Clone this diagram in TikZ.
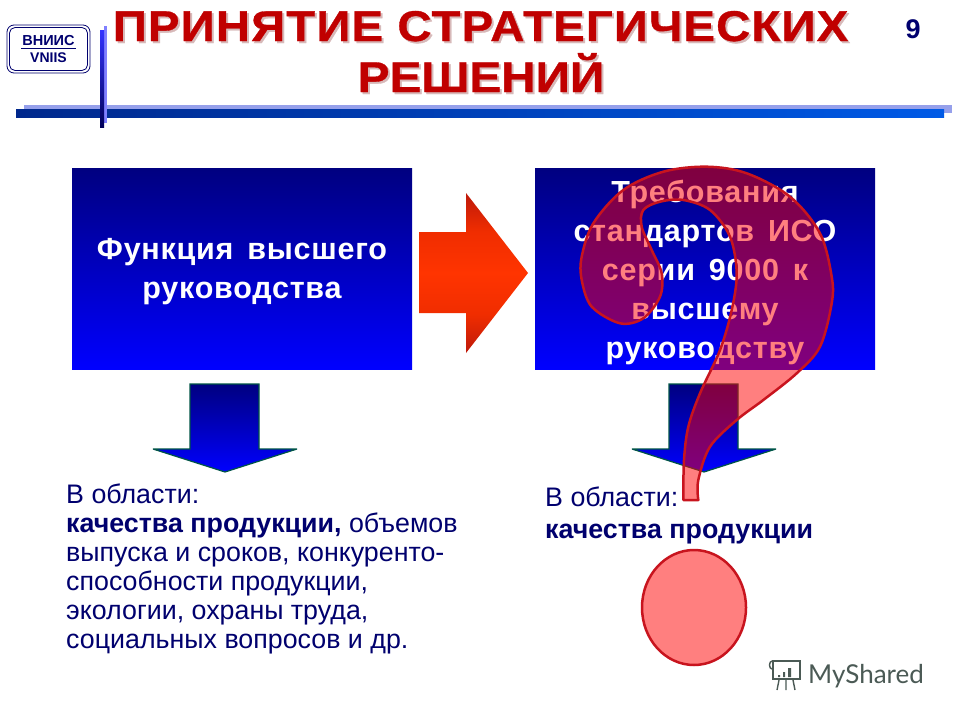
\documentclass[tikz,border=0pt]{standalone}
\usepackage{fontspec}
\setmainfont{Liberation Sans}
\newfontfamily\wmfont{Lato}
\newfontfamily\titlefonta[FakeStretch=1.1,FakeBold=.8,LetterSpace=2.7]{Liberation Sans Bold}
\newfontfamily\titlefontb[FakeStretch=1.11,FakeBold=.8]{Liberation Sans Bold}
\newfontfamily\boxfont[LetterSpace=2.5,WordSpace=1.5]{Liberation Sans Bold}
\definecolor{navytxt}{RGB}{0,0,110}
\definecolor{boxtop}{RGB}{0,0,128}
\definecolor{boxbot}{RGB}{0,0,255}
\definecolor{titlered}{RGB}{192,0,0}
\definecolor{titleshadow}{RGB}{215,185,185}
\definecolor{qline}{RGB}{200,20,30}
\definecolor{arrowline}{RGB}{0,85,70}
\definecolor{wm}{RGB}{75,90,85}
\definecolor{bardarkl}{RGB}{0,40,140}
\definecolor{bardarkr}{RGB}{0,90,230}
\definecolor{barlight}{RGB}{150,160,235}
\definecolor{arrowdark}{RGB}{190,25,10}
\definecolor{arrowmid}{RGB}{240,45,0}
\definecolor{arrowbright}{RGB}{255,52,0}
\pgfdeclareverticalshading{redarrowshade}{100bp}{
  color(0bp)=(arrowdark); color(25bp)=(arrowdark); color(37bp)=(arrowmid);
  color(50bp)=(arrowbright); color(63bp)=(arrowmid); color(75bp)=(arrowdark); color(100bp)=(arrowdark)}
\tikzset{
  x=1pt,y=-1pt,
  gradbox/.style={top color=boxtop,bottom color=boxbot,shading angle=0},
  boxtext/.style={text=white,font=\fontsize{30.5}{39}\boxfont,align=center,inner sep=0pt},
  titlea/.style={font=\fontsize{43}{50}\titlefonta,inner sep=0pt,anchor=base},
  titleb/.style={font=\fontsize{43}{50}\titlefontb,inner sep=0pt,anchor=base},
  bodytext/.style={text=navytxt,font=\fontsize{26.8}{29}\selectfont,align=left,inner sep=0pt,anchor=north west},
  bodytextb/.style={bodytext,font=\fontsize{26.8}{32}\selectfont},
  downarrow/.style={draw=arrowline,line width=1.2pt,miter limit=2,top color=boxtop,bottom color=boxbot},
  questionmark/.style={draw=qline,line width=2.5pt,fill=red,fill opacity=.5,line join=round},
}
\begin{document}
\begin{tikzpicture}
\useasboundingbox (0,0) rectangle (960,720);
\fill[white] (0,0) rectangle (960,720);
% header rules
\fill[barlight] (24,105) rectangle (952,113);
\shade[left color=bardarkl,right color=bardarkr] (16,109) rectangle (944,117);
\fill[blue!50!white] (104,26) rectangle (107,123);
\shade[top color=blue!80!white,bottom color=boxtop!70!black] (100,30) rectangle (104,127);
% logo
\draw[navytxt,line width=.8pt,rounded corners=7pt] (7,25) rectangle (90,73);
\draw[navytxt,line width=.8pt,rounded corners=5.5pt] (9.5,27.5) rectangle (87.5,70.5);
\node[text=navytxt,font=\fontsize{14.5}{15}\selectfont\bfseries,inner sep=0pt] (logoa) at (48.5,40.5) {ВНИИС};
\draw[navytxt,line width=1pt] (21,48.5) -- (76,48.5);
\node[text=navytxt,font=\fontsize{14}{15}\selectfont\bfseries,inner sep=0pt] (logob) at (48.5,58) {VNIIS};
% title
\node[titlea,text=titleshadow] (t1s) at (482.5,43) {ПРИНЯТИЕ СТРАТЕГИЧЕСКИХ};
\node[titlea,text=titlered] (t1) at (480.5,41) {ПРИНЯТИЕ СТРАТЕГИЧЕСКИХ};
\node[titleb,text=titleshadow] (t2s) at (483,94) {РЕШЕНИЙ};
\node[titleb,text=titlered] (t2) at (481,92) {РЕШЕНИЙ};
\node[text=navytxt,font=\fontsize{27}{27}\selectfont\bfseries,inner sep=0pt] (pg) at (913,29) {9};
% boxes
\shade[gradbox] (72,168) rectangle (412,369);
\shade[gradbox] (535,168) rectangle (875,369);
\node[boxtext] (bl) at (242,271.5) {Функция высшего\\руководства};
\node[boxtext] (br) at (705,272) {Требования\\стандартов ИСО\\серии 9000 к\\высшему\\руководству};
% red arrow
\shade[shading=redarrowshade]
  (419,232) -- (466,232) -- (466,193) -- (528,273) -- (466,353) -- (466,313) -- (419,313) -- cycle;
% down arrows
\path[downarrow] (190,384) -- (259,384) -- (259,449) -- (297,449) -- (225,472) -- (153,449) -- (190,449) -- cycle;
\path[downarrow] (669,384) -- (738,384) -- (738,449) -- (776,449) -- (704,472) -- (632,449) -- (669,449) -- cycle;
% body text
\node[bodytext] (tl) at (66,483.5) {В области:\\\textbf{качества продукции,} объемов\\выпуска и сроков, конкуренто-\\способности продукции,\\экологии, охраны труда,\\социальных вопросов и др.};
\node[bodytextb] (tr) at (545,486.5) {В области:\\\textbf{качества продукции}};
% question mark
\path[questionmark] plot[smooth,tension=.55] coordinates {
  (698.3,500) (698.3,480) (710,446.7) (736.7,420) (763.3,400) (796.7,373.3) (820,346.7)
  (831.7,303.3) (831.7,276.7) (820,233.3) (790,196.7) (746.7,173.3) (706.7,166.7)
  (663.3,171.7) (623.3,190) (593.3,223.3) (581.7,256.7) (581.7,280) (591.7,306.7)
  (620,323.3) (643.3,318.3) (660,296.7) (661.7,273.3) (651.7,250) (641.7,226.7)
  (643.3,210) (660,201.7) (683.3,200) (710,210) (730,236.7) (736.7,273.3) (731.7,310)
  (720,350) (700,393.3) (688.3,426.7) (684,460) (683.3,500)} -- cycle;
\path[questionmark] (694,607.5) ellipse [x radius=52,y radius=57.5];
% watermark
\begin{scope}[wm,line width=1.4pt]
\draw (772,661) -- (800,661) -- (800,679) -- (773,679) -- (773,661);
\draw (772,661) arc (90:270:2.5pt and 4pt);
\fill (778,675) rectangle (780,677) (783,672) rectangle (785,677) (788,668) rectangle (791,677);
\draw (779,680) -- (777,690) (786,680) -- (786,690) (793,680) -- (795,690);
\end{scope}
\node[text=wm,font=\wmfont\fontsize{26}{26}\selectfont,inner sep=0pt,anchor=base west] (wmt) at (808,683) {MyShared};
\end{tikzpicture}
\end{document}
